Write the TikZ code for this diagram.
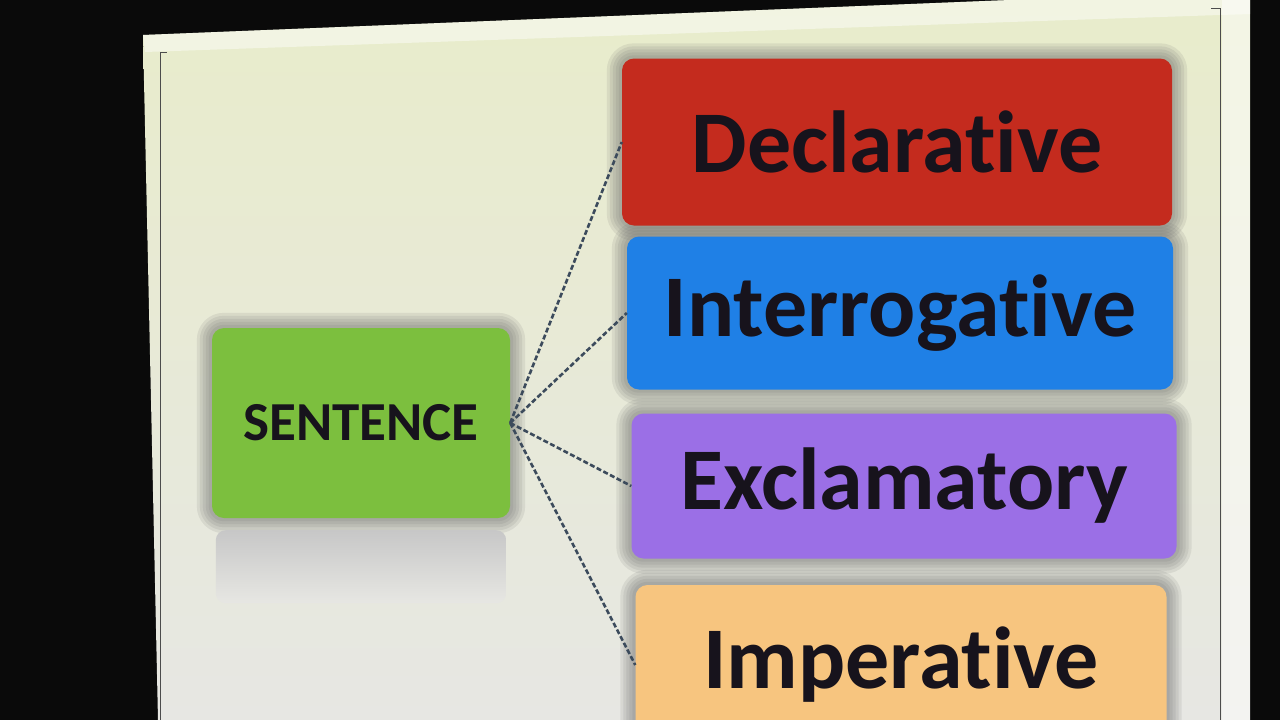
\documentclass[tikz,border=0pt]{standalone}
\usepackage{fontspec}
\setmainfont{Carlito}[Ligatures=NoCommon]
\usetikzlibrary{calc,backgrounds}
\definecolor{declred}{HTML}{C42B1E}
\definecolor{interblue}{HTML}{1F80E6}
\definecolor{exclpurple}{HTML}{9B6FE6}
\definecolor{imperorange}{HTML}{F7C57F}
\definecolor{sentgreen}{HTML}{7CBF3E}
\definecolor{inkdark}{HTML}{17131C}
\definecolor{linkgray}{HTML}{3C4B5C}
\definecolor{papertop}{HTML}{E8ECCB}
\definecolor{paperbot}{HTML}{E7E7E3}

\tikzset{
  kind/.style={rounded corners=12pt, inner sep=0pt, text=inkdark,
    font=\bfseries\fontsize{88}{94}\selectfont},
  link/.style={draw=linkgray, line width=2.6pt, dash pattern=on 5pt off 2.5pt},
}

\begin{document}
\begin{tikzpicture}[x=1pt,y=-1pt]
\useasboundingbox (0,0) rectangle (1280,720);
\clip (0,0) rectangle (1280,720);

% the boxes
\node[kind, fill=declred, minimum width=550pt, minimum height=167pt] (decl) at (897,142) {Declarative};
\node[kind, fill=interblue, minimum width=546pt, minimum height=153pt] (inter) at (900,313) {Interrogative};
\node[kind, fill=exclpurple, minimum width=545pt, minimum height=145pt] (excl) at (904,486) {Exclamatory};
\node[kind, fill=imperorange, minimum width=531pt, minimum height=160pt] (imper) at (901,665) {Imperative};
\node[kind, fill=sentgreen, minimum width=298pt, minimum height=190pt,
  font=\bfseries\fontsize{55}{60}\selectfont] (sent) at (361,423) {SENTENCE};

\begin{scope}[on background layer]
\fill[black!96] (0,0) rectangle (1280,720);
\shade[top color=papertop, bottom color=paperbot] (143,35) -- (1010,0) -- (1250,0) -- (1250,720) -- (158,720) -- cycle;
\fill[white, opacity=.45] (143,35) -- (1010,0) -- (1250,0) -- (1250,14) -- (1010,22) -- (145,52) -- cycle;
\fill[white, opacity=.5] (1222,0) rectangle (1250,720);
\draw[black!70, line width=1pt] (160,720) -- (160,52) -- (167,52);
\draw[black!70, line width=1pt] (1211,8) -- (1220,8) -- (1220,720);
% glow round the boxes
\foreach \b in {decl,inter,excl,imper,sent}
  \foreach \o in {3,6,...,15}
    \fill[black!60, opacity=.12, rounded corners=12pt+\o pt] ([shift={(-\o,-\o)}]\b.north west) rectangle ([shift={(\o,\o)}]\b.south east);
% reflection under the green box
\shade[top color=black!22, bottom color=paperbot, rounded corners=10pt] ([shift={(4,12)}]sent.south west) rectangle ([shift={(-4,85)}]sent.south east);
\end{scope}

% connectors
\foreach \b in {decl,inter,excl,imper}
  \draw[link] (sent.east) -- (\b.west);
\end{tikzpicture}
\end{document}
